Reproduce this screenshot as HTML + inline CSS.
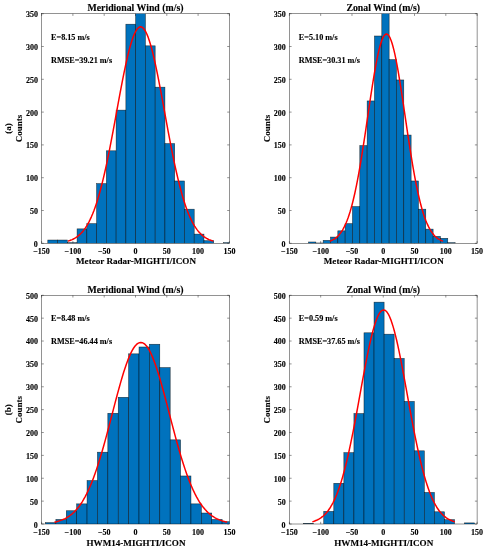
<!DOCTYPE html>
<html><head><meta charset="utf-8"><title>Wind histograms</title>
<style>html,body{margin:0;padding:0;background:#fff}svg{display:block}text{stroke:#000;stroke-width:0.12px}</style></head>
<body>
<svg width="486" height="550" viewBox="0 0 486 550" font-family="'Liberation Serif', 'Times New Roman', serif" font-weight="bold" fill="#000">
<rect width="486" height="550" fill="#fff"/>
<clipPath id="c1"><rect x="41.60" y="13.70" width="187.80" height="229.60"/></clipPath>
<rect x="41.60" y="13.70" width="187.80" height="229.60" fill="none" stroke="#262626" stroke-width="0.5"/>
<path d="M41.60 243.30v-2.2M41.60 13.70v2.2M72.90 243.30v-2.2M72.90 13.70v2.2M104.20 243.30v-2.2M104.20 13.70v2.2M135.50 243.30v-2.2M135.50 13.70v2.2M166.80 243.30v-2.2M166.80 13.70v2.2M198.10 243.30v-2.2M198.10 13.70v2.2M229.40 243.30v-2.2M229.40 13.70v2.2M41.60 243.30h2.2M229.40 243.30h-2.2M41.60 210.50h2.2M229.40 210.50h-2.2M41.60 177.70h2.2M229.40 177.70h-2.2M41.60 144.90h2.2M229.40 144.90h-2.2M41.60 112.10h2.2M229.40 112.10h-2.2M41.60 79.30h2.2M229.40 79.30h-2.2M41.60 46.50h2.2M229.40 46.50h-2.2M41.60 13.70h2.2M229.40 13.70h-2.2" stroke="#262626" stroke-width="0.5" fill="none"/>
<g clip-path="url(#c1)" fill="#0072BD" stroke="#000" stroke-opacity="0.75" stroke-width="0.55">
<rect x="47.80" y="240.02" width="9.76" height="3.28"/>
<rect x="57.56" y="240.02" width="9.76" height="3.28"/>
<rect x="67.32" y="242.64" width="9.76" height="0.66"/>
<rect x="77.08" y="228.87" width="9.76" height="14.43"/>
<rect x="86.84" y="223.62" width="9.76" height="19.68"/>
<rect x="96.60" y="183.60" width="9.76" height="59.70"/>
<rect x="106.36" y="150.80" width="9.76" height="92.50"/>
<rect x="116.12" y="110.13" width="9.76" height="133.17"/>
<rect x="125.88" y="24.20" width="9.76" height="219.10"/>
<rect x="135.64" y="-19.10" width="9.76" height="262.40"/>
<rect x="145.40" y="45.84" width="9.76" height="197.46"/>
<rect x="155.16" y="87.17" width="9.76" height="156.13"/>
<rect x="164.92" y="143.59" width="9.76" height="99.71"/>
<rect x="174.68" y="180.98" width="9.76" height="62.32"/>
<rect x="184.44" y="209.19" width="9.76" height="34.11"/>
<rect x="194.20" y="234.12" width="9.76" height="9.18"/>
<rect x="203.96" y="240.68" width="9.76" height="2.62"/>
<rect x="223.48" y="242.64" width="9.76" height="0.66"/>
<rect x="233.24" y="241.66" width="9.76" height="1.64"/>
</g>
<polyline clip-path="url(#c1)" points="68.58,240.90 69.78,240.51 70.98,240.07 72.18,239.57 73.38,239.00 74.58,238.37 75.78,237.65 76.98,236.84 78.18,235.93 79.38,234.92 80.58,233.79 81.78,232.54 82.98,231.15 84.19,229.62 85.39,227.93 86.59,226.08 87.79,224.05 88.99,221.84 90.19,219.43 91.39,216.82 92.59,214.00 93.79,210.96 94.99,207.69 96.19,204.20 97.39,200.46 98.59,196.48 99.79,192.27 100.99,187.81 102.19,183.11 103.39,178.18 104.59,173.02 105.79,167.64 106.99,162.05 108.19,156.27 109.39,150.31 110.59,144.19 111.79,137.93 112.99,131.55 114.19,125.09 115.39,118.56 116.59,112.00 117.80,105.44 119.00,98.91 120.20,92.46 121.40,86.10 122.60,79.89 123.80,73.86 125.00,68.04 126.20,62.48 127.40,57.21 128.60,52.26 129.80,47.67 131.00,43.46 132.20,39.68 133.40,36.35 134.60,33.48 135.80,31.11 137.00,29.24 138.20,27.90 139.40,27.09 140.60,26.82 141.80,27.09 143.00,27.90 144.20,29.24 145.40,31.11 146.60,33.48 147.80,36.35 149.00,39.68 150.20,43.46 151.41,47.67 152.61,52.26 153.81,57.21 155.01,62.48 156.21,68.04 157.41,73.86 158.61,79.89 159.81,86.10 161.01,92.46 162.21,98.91 163.41,105.44 164.61,112.00 165.81,118.56 167.01,125.09 168.21,131.55 169.41,137.93 170.61,144.19 171.81,150.31 173.01,156.27 174.21,162.05 175.41,167.64 176.61,173.02 177.81,178.18 179.01,183.11 180.21,187.81 181.41,192.27 182.61,196.48 183.81,200.46 185.02,204.20 186.22,207.69 187.42,210.96 188.62,214.00 189.82,216.82 191.02,219.43 192.22,221.84 193.42,224.05 194.62,226.08 195.82,227.93 197.02,229.62 198.22,231.15 199.42,232.54 200.62,233.79 201.82,234.92 203.02,235.93 204.22,236.84 205.42,237.65 206.62,238.37 207.82,239.00 209.02,239.57 210.22,240.07 211.42,240.51 212.62,240.90" fill="none" stroke="#FF0000" stroke-width="1.5" stroke-linejoin="round" stroke-linecap="round"/>
<g font-size="8">
<text x="41.60" y="253.70" text-anchor="middle">−150</text>
<text x="72.90" y="253.70" text-anchor="middle">−100</text>
<text x="104.20" y="253.70" text-anchor="middle">−50</text>
<text x="135.50" y="253.70" text-anchor="middle">0</text>
<text x="166.80" y="253.70" text-anchor="middle">50</text>
<text x="198.10" y="253.70" text-anchor="middle">100</text>
<text x="229.40" y="253.70" text-anchor="middle">150</text>
<text x="37.70" y="247.40" text-anchor="end">0</text>
<text x="38.00" y="213.90" text-anchor="end">50</text>
<text x="38.00" y="181.10" text-anchor="end">100</text>
<text x="38.00" y="148.30" text-anchor="end">150</text>
<text x="38.00" y="115.50" text-anchor="end">200</text>
<text x="38.00" y="82.70" text-anchor="end">250</text>
<text x="38.00" y="49.90" text-anchor="end">300</text>
<text x="38.00" y="17.10" text-anchor="end">350</text>
</g>
<text x="135.50" y="11.20" text-anchor="middle" font-size="9.8">Meridional Wind (m/s)</text>
<text x="136.00" y="264.10" text-anchor="middle" font-size="9.1">Meteor Radar-MIGHTI/ICON</text>
<text transform="translate(22.30,128.50) rotate(-90)" text-anchor="middle" font-size="9">Counts</text>
<text transform="translate(11.40,128.50) rotate(-90)" text-anchor="middle" font-size="9">(a)</text>
<text x="51.00" y="39.60" font-size="8.2">E=8.15 m/s</text>
<text x="51.00" y="63.10" font-size="8.2">RMSE=39.21 m/s</text>
<clipPath id="c2"><rect x="289.40" y="13.70" width="187.70" height="229.60"/></clipPath>
<rect x="289.40" y="13.70" width="187.70" height="229.60" fill="none" stroke="#262626" stroke-width="0.5"/>
<path d="M289.40 243.30v-2.2M289.40 13.70v2.2M320.68 243.30v-2.2M320.68 13.70v2.2M351.97 243.30v-2.2M351.97 13.70v2.2M383.25 243.30v-2.2M383.25 13.70v2.2M414.53 243.30v-2.2M414.53 13.70v2.2M445.82 243.30v-2.2M445.82 13.70v2.2M477.10 243.30v-2.2M477.10 13.70v2.2M289.40 243.30h2.2M477.10 243.30h-2.2M289.40 210.50h2.2M477.10 210.50h-2.2M289.40 177.70h2.2M477.10 177.70h-2.2M289.40 144.90h2.2M477.10 144.90h-2.2M289.40 112.10h2.2M477.10 112.10h-2.2M289.40 79.30h2.2M477.10 79.30h-2.2M289.40 46.50h2.2M477.10 46.50h-2.2M289.40 13.70h2.2M477.10 13.70h-2.2" stroke="#262626" stroke-width="0.5" fill="none"/>
<g clip-path="url(#c2)" fill="#0072BD" stroke="#000" stroke-opacity="0.75" stroke-width="0.55">
<rect x="308.50" y="241.99" width="7.33" height="1.31"/>
<rect x="315.83" y="242.97" width="7.33" height="0.33"/>
<rect x="323.16" y="240.35" width="7.33" height="2.95"/>
<rect x="330.49" y="237.07" width="7.33" height="6.23"/>
<rect x="337.82" y="230.84" width="7.33" height="12.46"/>
<rect x="345.15" y="223.62" width="7.33" height="19.68"/>
<rect x="352.48" y="206.56" width="7.33" height="36.74"/>
<rect x="359.81" y="145.56" width="7.33" height="97.74"/>
<rect x="367.14" y="100.95" width="7.33" height="142.35"/>
<rect x="374.47" y="36.00" width="7.33" height="207.30"/>
<rect x="381.80" y="-19.10" width="7.33" height="262.40"/>
<rect x="389.13" y="59.62" width="7.33" height="183.68"/>
<rect x="396.46" y="79.96" width="7.33" height="163.34"/>
<rect x="403.79" y="135.06" width="7.33" height="108.24"/>
<rect x="411.12" y="180.98" width="7.33" height="62.32"/>
<rect x="418.45" y="209.19" width="7.33" height="34.11"/>
<rect x="425.78" y="229.13" width="7.33" height="14.17"/>
<rect x="433.11" y="236.35" width="7.33" height="6.95"/>
<rect x="440.44" y="238.31" width="7.33" height="4.99"/>
<rect x="447.77" y="242.64" width="7.33" height="0.66"/>
</g>
<polyline clip-path="url(#c2)" points="330.36,240.98 331.29,240.60 332.23,240.18 333.16,239.69 334.10,239.15 335.03,238.53 335.96,237.83 336.90,237.05 337.83,236.18 338.77,235.20 339.70,234.11 340.64,232.89 341.57,231.55 342.51,230.07 343.44,228.44 344.38,226.65 345.31,224.69 346.25,222.55 347.18,220.23 348.12,217.71 349.05,214.98 349.99,212.04 350.92,208.88 351.86,205.50 352.79,201.89 353.72,198.04 354.66,193.97 355.59,189.66 356.53,185.12 357.46,180.35 358.40,175.36 359.33,170.16 360.27,164.76 361.20,159.17 362.14,153.41 363.07,147.49 364.01,141.44 364.94,135.28 365.88,129.03 366.81,122.72 367.75,116.37 368.68,110.03 369.62,103.73 370.55,97.48 371.48,91.34 372.42,85.34 373.35,79.51 374.29,73.89 375.22,68.51 376.16,63.41 377.09,58.63 378.03,54.19 378.96,50.12 379.90,46.47 380.83,43.24 381.77,40.47 382.70,38.18 383.64,36.38 384.57,35.08 385.51,34.30 386.44,34.04 387.38,34.30 388.31,35.08 389.25,36.38 390.18,38.18 391.11,40.47 392.05,43.24 392.98,46.47 393.92,50.12 394.85,54.19 395.79,58.63 396.72,63.41 397.66,68.51 398.59,73.89 399.53,79.51 400.46,85.34 401.40,91.34 402.33,97.48 403.27,103.73 404.20,110.03 405.14,116.37 406.07,122.72 407.01,129.03 407.94,135.28 408.87,141.44 409.81,147.49 410.74,153.41 411.68,159.17 412.61,164.76 413.55,170.16 414.48,175.36 415.42,180.35 416.35,185.12 417.29,189.66 418.22,193.97 419.16,198.04 420.09,201.89 421.03,205.50 421.96,208.88 422.90,212.04 423.83,214.98 424.77,217.71 425.70,220.23 426.63,222.55 427.57,224.69 428.50,226.65 429.44,228.44 430.37,230.07 431.31,231.55 432.24,232.89 433.18,234.11 434.11,235.20 435.05,236.18 435.98,237.05 436.92,237.83 437.85,238.53 438.79,239.15 439.72,239.69 440.66,240.18 441.59,240.60 442.53,240.98" fill="none" stroke="#FF0000" stroke-width="1.5" stroke-linejoin="round" stroke-linecap="round"/>
<g font-size="8">
<text x="289.40" y="253.70" text-anchor="middle">−150</text>
<text x="320.68" y="253.70" text-anchor="middle">−100</text>
<text x="351.97" y="253.70" text-anchor="middle">−50</text>
<text x="383.25" y="253.70" text-anchor="middle">0</text>
<text x="414.53" y="253.70" text-anchor="middle">50</text>
<text x="445.82" y="253.70" text-anchor="middle">100</text>
<text x="477.10" y="253.70" text-anchor="middle">150</text>
<text x="285.50" y="247.40" text-anchor="end">0</text>
<text x="285.80" y="213.90" text-anchor="end">50</text>
<text x="285.80" y="181.10" text-anchor="end">100</text>
<text x="285.80" y="148.30" text-anchor="end">150</text>
<text x="285.80" y="115.50" text-anchor="end">200</text>
<text x="285.80" y="82.70" text-anchor="end">250</text>
<text x="285.80" y="49.90" text-anchor="end">300</text>
<text x="285.80" y="17.10" text-anchor="end">350</text>
</g>
<text x="383.25" y="11.20" text-anchor="middle" font-size="9.8">Zonal Wind (m/s)</text>
<text x="383.75" y="264.10" text-anchor="middle" font-size="9.1">Meteor Radar-MIGHTI/ICON</text>
<text transform="translate(270.10,128.50) rotate(-90)" text-anchor="middle" font-size="9">Counts</text>
<text x="298.80" y="39.60" font-size="8.2">E=5.10 m/s</text>
<text x="298.80" y="63.10" font-size="8.2">RMSE=30.31 m/s</text>
<clipPath id="c3"><rect x="41.60" y="295.30" width="187.80" height="228.70"/></clipPath>
<rect x="41.60" y="295.30" width="187.80" height="228.70" fill="none" stroke="#262626" stroke-width="0.5"/>
<path d="M41.60 524.00v-2.2M41.60 295.30v2.2M72.90 524.00v-2.2M72.90 295.30v2.2M104.20 524.00v-2.2M104.20 295.30v2.2M135.50 524.00v-2.2M135.50 295.30v2.2M166.80 524.00v-2.2M166.80 295.30v2.2M198.10 524.00v-2.2M198.10 295.30v2.2M229.40 524.00v-2.2M229.40 295.30v2.2M41.60 524.00h2.2M229.40 524.00h-2.2M41.60 501.13h2.2M229.40 501.13h-2.2M41.60 478.26h2.2M229.40 478.26h-2.2M41.60 455.39h2.2M229.40 455.39h-2.2M41.60 432.52h2.2M229.40 432.52h-2.2M41.60 409.65h2.2M229.40 409.65h-2.2M41.60 386.78h2.2M229.40 386.78h-2.2M41.60 363.91h2.2M229.40 363.91h-2.2M41.60 341.04h2.2M229.40 341.04h-2.2M41.60 318.17h2.2M229.40 318.17h-2.2M41.60 295.30h2.2M229.40 295.30h-2.2" stroke="#262626" stroke-width="0.5" fill="none"/>
<g clip-path="url(#c3)" fill="#0072BD" stroke="#000" stroke-opacity="0.75" stroke-width="0.55">
<rect x="45.50" y="522.63" width="10.39" height="1.37"/>
<rect x="55.89" y="519.43" width="10.39" height="4.57"/>
<rect x="66.28" y="510.74" width="10.39" height="13.26"/>
<rect x="76.67" y="503.87" width="10.39" height="20.13"/>
<rect x="87.06" y="480.55" width="10.39" height="43.45"/>
<rect x="97.45" y="452.19" width="10.39" height="71.81"/>
<rect x="107.84" y="413.31" width="10.39" height="110.69"/>
<rect x="118.23" y="397.30" width="10.39" height="126.70"/>
<rect x="128.62" y="353.85" width="10.39" height="170.15"/>
<rect x="139.01" y="346.99" width="10.39" height="177.01"/>
<rect x="149.40" y="344.24" width="10.39" height="179.76"/>
<rect x="159.79" y="367.57" width="10.39" height="156.43"/>
<rect x="170.18" y="439.84" width="10.39" height="84.16"/>
<rect x="180.57" y="475.97" width="10.39" height="48.03"/>
<rect x="190.96" y="503.87" width="10.39" height="20.13"/>
<rect x="201.35" y="513.02" width="10.39" height="10.98"/>
<rect x="211.74" y="519.43" width="10.39" height="4.57"/>
<rect x="222.13" y="521.71" width="10.39" height="2.29"/>
</g>
<polyline clip-path="url(#c3)" points="55.06,521.98 56.49,521.66 57.92,521.29 59.35,520.87 60.78,520.40 62.20,519.86 63.63,519.26 65.06,518.58 66.49,517.82 67.92,516.97 69.35,516.02 70.78,514.97 72.21,513.81 73.64,512.52 75.07,511.11 76.50,509.55 77.93,507.85 79.35,506.00 80.78,503.98 82.21,501.79 83.64,499.42 85.07,496.87 86.50,494.13 87.93,491.20 89.36,488.06 90.79,484.73 92.22,481.19 93.65,477.45 95.08,473.51 96.50,469.38 97.93,465.05 99.36,460.53 100.79,455.85 102.22,451.00 103.65,446.00 105.08,440.86 106.51,435.61 107.94,430.26 109.37,424.84 110.80,419.36 112.23,413.86 113.65,408.36 115.08,402.89 116.51,397.47 117.94,392.14 119.37,386.93 120.80,381.87 122.23,376.99 123.66,372.33 125.09,367.90 126.52,363.75 127.95,359.90 129.38,356.37 130.80,353.20 132.23,350.40 133.66,348.00 135.09,346.01 136.52,344.44 137.95,343.32 139.38,342.64 140.81,342.41 142.24,342.64 143.67,343.32 145.10,344.44 146.53,346.01 147.95,348.00 149.38,350.40 150.81,353.20 152.24,356.37 153.67,359.90 155.10,363.75 156.53,367.90 157.96,372.33 159.39,376.99 160.82,381.87 162.25,386.93 163.68,392.14 165.10,397.47 166.53,402.89 167.96,408.36 169.39,413.86 170.82,419.36 172.25,424.84 173.68,430.26 175.11,435.61 176.54,440.86 177.97,446.00 179.40,451.00 180.82,455.85 182.25,460.53 183.68,465.05 185.11,469.38 186.54,473.51 187.97,477.45 189.40,481.19 190.83,484.73 192.26,488.06 193.69,491.20 195.12,494.13 196.55,496.87 197.97,499.42 199.40,501.79 200.83,503.98 202.26,506.00 203.69,507.85 205.12,509.55 206.55,511.11 207.98,512.52 209.41,513.81 210.84,514.97 212.27,516.02 213.70,516.97 215.12,517.82 216.55,518.58 217.98,519.26 219.41,519.86 220.84,520.40 222.27,520.87 223.70,521.29 225.13,521.66 226.56,521.98" fill="none" stroke="#FF0000" stroke-width="1.5" stroke-linejoin="round" stroke-linecap="round"/>
<g font-size="8">
<text x="41.60" y="534.80" text-anchor="middle">−150</text>
<text x="72.90" y="534.80" text-anchor="middle">−100</text>
<text x="104.20" y="534.80" text-anchor="middle">−50</text>
<text x="135.50" y="534.80" text-anchor="middle">0</text>
<text x="166.80" y="534.80" text-anchor="middle">50</text>
<text x="198.10" y="534.80" text-anchor="middle">100</text>
<text x="229.40" y="534.80" text-anchor="middle">150</text>
<text x="37.70" y="528.10" text-anchor="end">0</text>
<text x="38.00" y="504.53" text-anchor="end">50</text>
<text x="38.00" y="481.66" text-anchor="end">100</text>
<text x="38.00" y="458.79" text-anchor="end">150</text>
<text x="38.00" y="435.92" text-anchor="end">200</text>
<text x="38.00" y="413.05" text-anchor="end">250</text>
<text x="38.00" y="390.18" text-anchor="end">300</text>
<text x="38.00" y="367.31" text-anchor="end">350</text>
<text x="38.00" y="344.44" text-anchor="end">400</text>
<text x="38.00" y="321.57" text-anchor="end">450</text>
<text x="38.00" y="298.70" text-anchor="end">500</text>
</g>
<text x="135.50" y="292.80" text-anchor="middle" font-size="9.8">Meridional Wind (m/s)</text>
<text x="136.00" y="545.50" text-anchor="middle" font-size="9.1">HWM14-MIGHTI/ICON</text>
<text transform="translate(22.30,409.65) rotate(-90)" text-anchor="middle" font-size="9">Counts</text>
<text transform="translate(11.40,409.65) rotate(-90)" text-anchor="middle" font-size="9">(b)</text>
<text x="51.00" y="320.50" font-size="8.2">E=8.48 m/s</text>
<text x="51.00" y="343.50" font-size="8.2">RMSE=46.44 m/s</text>
<clipPath id="c4"><rect x="289.40" y="295.30" width="187.70" height="228.70"/></clipPath>
<rect x="289.40" y="295.30" width="187.70" height="228.70" fill="none" stroke="#262626" stroke-width="0.5"/>
<path d="M289.40 524.00v-2.2M289.40 295.30v2.2M320.68 524.00v-2.2M320.68 295.30v2.2M351.97 524.00v-2.2M351.97 295.30v2.2M383.25 524.00v-2.2M383.25 295.30v2.2M414.53 524.00v-2.2M414.53 295.30v2.2M445.82 524.00v-2.2M445.82 295.30v2.2M477.10 524.00v-2.2M477.10 295.30v2.2M289.40 524.00h2.2M477.10 524.00h-2.2M289.40 501.13h2.2M477.10 501.13h-2.2M289.40 478.26h2.2M477.10 478.26h-2.2M289.40 455.39h2.2M477.10 455.39h-2.2M289.40 432.52h2.2M477.10 432.52h-2.2M289.40 409.65h2.2M477.10 409.65h-2.2M289.40 386.78h2.2M477.10 386.78h-2.2M289.40 363.91h2.2M477.10 363.91h-2.2M289.40 341.04h2.2M477.10 341.04h-2.2M289.40 318.17h2.2M477.10 318.17h-2.2M289.40 295.30h2.2M477.10 295.30h-2.2" stroke="#262626" stroke-width="0.5" fill="none"/>
<g clip-path="url(#c4)" fill="#0072BD" stroke="#000" stroke-opacity="0.75" stroke-width="0.55">
<rect x="303.62" y="523.54" width="10.06" height="0.46"/>
<rect x="323.74" y="511.38" width="10.06" height="12.62"/>
<rect x="333.80" y="483.29" width="10.06" height="40.71"/>
<rect x="343.86" y="452.65" width="10.06" height="71.35"/>
<rect x="353.92" y="413.54" width="10.06" height="110.46"/>
<rect x="363.98" y="332.81" width="10.06" height="191.19"/>
<rect x="374.04" y="302.16" width="10.06" height="221.84"/>
<rect x="384.10" y="334.18" width="10.06" height="189.82"/>
<rect x="394.16" y="358.42" width="10.06" height="165.58"/>
<rect x="404.22" y="401.42" width="10.06" height="122.58"/>
<rect x="414.28" y="450.82" width="10.06" height="73.18"/>
<rect x="424.34" y="492.44" width="10.06" height="31.56"/>
<rect x="434.40" y="511.79" width="10.06" height="12.21"/>
<rect x="444.46" y="519.65" width="10.06" height="4.35"/>
<rect x="464.58" y="522.90" width="10.06" height="1.10"/>
</g>
<polyline clip-path="url(#c4)" points="312.95,521.62 314.13,521.24 315.31,520.81 316.48,520.31 317.66,519.75 318.84,519.12 320.02,518.41 321.19,517.61 322.37,516.71 323.55,515.71 324.73,514.59 325.91,513.36 327.08,511.98 328.26,510.47 329.44,508.80 330.62,506.97 331.80,504.97 332.97,502.78 334.15,500.40 335.33,497.82 336.51,495.03 337.68,492.02 338.86,488.79 340.04,485.33 341.22,481.64 342.40,477.71 343.57,473.54 344.75,469.13 345.93,464.48 347.11,459.61 348.28,454.50 349.46,449.18 350.64,443.66 351.82,437.94 353.00,432.05 354.17,425.99 355.35,419.80 356.53,413.50 357.71,407.11 358.88,400.65 360.06,394.16 361.24,387.68 362.42,381.22 363.60,374.84 364.77,368.56 365.95,362.42 367.13,356.45 368.31,350.70 369.49,345.20 370.66,339.98 371.84,335.09 373.02,330.55 374.20,326.39 375.37,322.65 376.55,319.36 377.73,316.52 378.91,314.18 380.09,312.33 381.26,311.00 382.44,310.20 383.62,309.94 384.80,310.20 385.97,311.00 387.15,312.33 388.33,314.18 389.51,316.52 390.69,319.36 391.86,322.65 393.04,326.39 394.22,330.55 395.40,335.09 396.58,339.98 397.75,345.20 398.93,350.70 400.11,356.45 401.29,362.42 402.46,368.56 403.64,374.84 404.82,381.22 406.00,387.68 407.18,394.16 408.35,400.65 409.53,407.11 410.71,413.50 411.89,419.80 413.06,425.99 414.24,432.05 415.42,437.94 416.60,443.66 417.78,449.18 418.95,454.50 420.13,459.61 421.31,464.48 422.49,469.13 423.66,473.54 424.84,477.71 426.02,481.64 427.20,485.33 428.38,488.79 429.55,492.02 430.73,495.03 431.91,497.82 433.09,500.40 434.27,502.78 435.44,504.97 436.62,506.97 437.80,508.80 438.98,510.47 440.15,511.98 441.33,513.36 442.51,514.59 443.69,515.71 444.87,516.71 446.04,517.61 447.22,518.41 448.40,519.12 449.58,519.75 450.75,520.31 451.93,520.81 453.11,521.24 454.29,521.62" fill="none" stroke="#FF0000" stroke-width="1.5" stroke-linejoin="round" stroke-linecap="round"/>
<g font-size="8">
<text x="289.40" y="534.80" text-anchor="middle">−150</text>
<text x="320.68" y="534.80" text-anchor="middle">−100</text>
<text x="351.97" y="534.80" text-anchor="middle">−50</text>
<text x="383.25" y="534.80" text-anchor="middle">0</text>
<text x="414.53" y="534.80" text-anchor="middle">50</text>
<text x="445.82" y="534.80" text-anchor="middle">100</text>
<text x="477.10" y="534.80" text-anchor="middle">150</text>
<text x="285.50" y="528.10" text-anchor="end">0</text>
<text x="285.80" y="504.53" text-anchor="end">50</text>
<text x="285.80" y="481.66" text-anchor="end">100</text>
<text x="285.80" y="458.79" text-anchor="end">150</text>
<text x="285.80" y="435.92" text-anchor="end">200</text>
<text x="285.80" y="413.05" text-anchor="end">250</text>
<text x="285.80" y="390.18" text-anchor="end">300</text>
<text x="285.80" y="367.31" text-anchor="end">350</text>
<text x="285.80" y="344.44" text-anchor="end">400</text>
<text x="285.80" y="321.57" text-anchor="end">450</text>
<text x="285.80" y="298.70" text-anchor="end">500</text>
</g>
<text x="383.25" y="292.80" text-anchor="middle" font-size="9.8">Zonal Wind (m/s)</text>
<text x="383.75" y="545.50" text-anchor="middle" font-size="9.1">HWM14-MIGHTI/ICON</text>
<text transform="translate(270.10,409.65) rotate(-90)" text-anchor="middle" font-size="9">Counts</text>
<text x="298.80" y="320.50" font-size="8.2">E=0.59 m/s</text>
<text x="298.80" y="343.50" font-size="8.2">RMSE=37.65 m/s</text>
</svg>
</body></html>
